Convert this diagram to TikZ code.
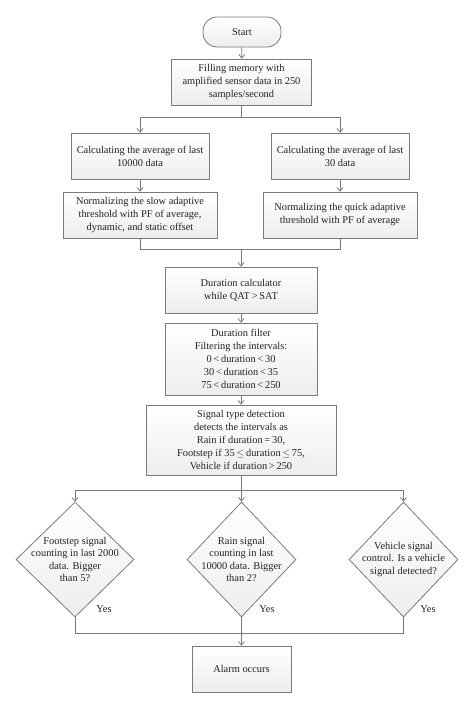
\documentclass[tikz,border=0pt]{standalone}
\usepackage{fontspec}
\setmainfont{Liberation Serif}
\usetikzlibrary{arrows.meta,shapes.geometric}
\definecolor{edgegray}{HTML}{7A7A7A}
\definecolor{txt}{HTML}{222222}
\tikzset{
  box/.style={draw=edgegray, line width=0.8pt, top color=white, bottom color=gray!14,
    align=center, inner sep=2pt, text=txt, font=\fontsize{10.4}{13}\selectfont},
  startbox/.style={box, rounded corners=14pt, minimum width=78pt, minimum height=30pt},
  dia/.style={draw=edgegray, line width=0.8pt, top color=white, bottom color=gray!14,
    diamond, inner sep=0pt},
  diatext/.style={text=txt, align=center, font=\fontsize{10.4}{12.6}\selectfont},
  yeslbl/.style={text=txt, font=\fontsize{10.4}{13}\selectfont},
  arr/.style={draw=edgegray, line width=0.8pt, -{Straight Barb[length=3.5pt,width=6pt]}},
  ln/.style={draw=edgegray, line width=0.8pt}
}
\begin{document}
\begin{tikzpicture}[x=1pt,y=-1pt]
\useasboundingbox (0,0) rectangle (474,709);
\node[startbox] (start) at (242,32) {Start};
\node[box, minimum width=140pt, minimum height=46pt] (fill) at (241.5,82)
  {Filling memory with\\amplified sensor data in 250\\samples/second};
\node[box, minimum width=138pt, minimum height=46pt] (calcL) at (140,156)
  {Calculating the average of last\\10000 data};
\node[box, minimum width=138pt, minimum height=46pt] (calcR) at (340,156)
  {Calculating the average of last\\30 data};
\node[box, minimum width=154pt, minimum height=46pt] (normL) at (140,215)
  {Normalizing the slow adaptive\\threshold with PF of average,\\dynamic, and static offset};
\node[box, minimum width=154pt, minimum height=46pt] (normR) at (340,215)
  {Normalizing the quick adaptive\\threshold with PF of average};
\node[box, minimum width=152pt, minimum height=46pt] (dur) at (241,290)
  {Duration calculator\\while QAT\,>\,SAT};
\node[box, minimum width=152pt, minimum height=72pt] (filter) at (241,359)
  {Duration filter\\Filtering the intervals:\\0\,<\,duration\,<\,30\\30\,<\,duration\,<\,35\\75\,<\,duration\,<\,250};
\node[box, minimum width=190pt, minimum height=70pt] (signal) at (241,440)
  {Signal type detection\\detects the intervals as\\Rain if duration\,=\,30,\\Footstep if 35\,$\leq$\,duration\,$\leq$\,75,\\Vehicle if duration\,>\,250};
\node[dia, minimum width=118pt, minimum height=115pt,
  label={[diatext]center:Footstep signal\\counting in last 2000\\data. Bigger\\than 5?}] (dL) at (75,559.5) {};
\node[dia, minimum width=109pt, minimum height=115pt,
  label={[diatext]center:Rain signal\\counting in last\\10000 data. Bigger\\than 2?}] (dM) at (241.5,559.5) {};
\node[dia, minimum width=109pt, minimum height=115pt,
  label={[diatext]center:Vehicle signal\\control. Is a vehicle\\signal detected?}] (dR) at (403.5,559.5) {};
\node[yeslbl] (yL) at (104,609) {Yes};
\node[yeslbl] (yM) at (267,609) {Yes};
\node[yeslbl] (yR) at (428,609) {Yes};
\node[box, minimum width=99pt, minimum height=46pt] (alarm) at (241.5,669) {Alarm occurs};
\coordinate (s1) at (241.5,117);
\coordinate (m1) at (241,249);
\coordinate (s2) at (241,490);
\coordinate (m2) at (241.5,633);
\draw[arr] (start) -- (fill);
\draw[ln] (fill.south) -- (s1);
\draw[arr] (s1) -| (calcL.north);
\draw[arr] (s1) -| (calcR.north);
\draw[arr] (calcL) -- (normL);
\draw[arr] (calcR) -- (normR);
\draw[ln] (normL.south) |- (m1);
\draw[ln] (normR.south) |- (m1);
\draw[arr] (m1) -- (dur.north);
\draw[arr] (dur) -- (filter);
\draw[arr] (filter) -- (signal);
\draw[ln] (signal.south) -- (s2);
\draw[arr] (s2) -| (dL.north);
\draw[arr] (s2) -- (s2 -| dM.north) -- (dM.north);
\draw[arr] (s2) -| (dR.north);
\draw[ln] (dL.south) |- (m2);
\draw[ln] (dR.south) |- (m2);
\draw[arr] (dM.south) -- (alarm.north);
\end{tikzpicture}
\end{document}
